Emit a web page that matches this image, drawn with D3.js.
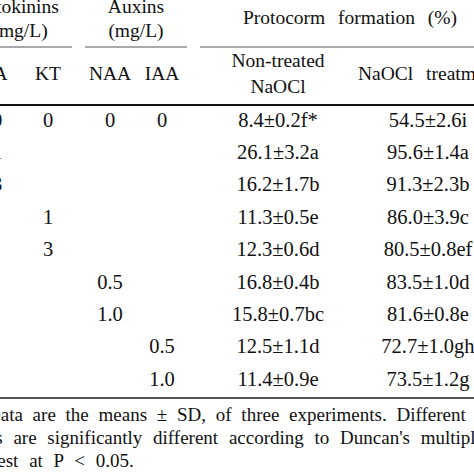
<!DOCTYPE html><html><head><meta charset="utf-8">
<script src="https://cdn.jsdelivr.net/npm/d3@7"></script>
<style>body{margin:0;background:#fff}svg{display:block}</style></head><body>
<script>
const BA=["0","1","3","","","","","",""];
const KT=["0","","","1","3","","","",""];
const NAA=["0","","","","","0.5","1.0","",""];
const IAA=["0","","","","","","","0.5","1.0"];
const nonTreated=["8.4±0.2f*","26.1±3.2a","16.2±1.7b","11.3±0.5e","12.3±0.6d","16.8±0.4b","15.8±0.7bc","12.5±1.1d","11.4±0.9e"];
const treated=["54.5±2.6i","95.6±1.4a","91.3±2.3b","86.0±3.9c","80.5±0.8ef","83.5±1.0d","81.6±0.8e","72.7±1.0gh","73.5±1.2g"];
const footnote=["Data are the means ± SD, of three experiments. Different letters","Means are significantly different according to Duncan's multiple range","test at P < 0.05."];

const W=474,H=474;
const svg=d3.select("body").append("svg").attr("width",W).attr("height",H)
 .style("font-family","'Liberation Serif','Times New Roman',serif").style("fill","#111");
const y=d3.scalePoint().domain(d3.range(BA.length)).range([122,381]);
const cols=[{d:BA,x:-3},{d:KT,x:48},{d:NAA,x:110},{d:IAA,x:162},{d:nonTreated,x:278},{d:treated,x:428}];
const t=(x,yy,s,a="middle",fs=19.5,ws=4)=>svg.append("text").attr("x",x).attr("y",yy).attr("text-anchor",a)
 .attr("font-size",fs).attr("dominant-baseline","middle").style("word-spacing",ws+"px").text(s);
// headers
t(16,9,"Cytokinins");t(20,33,"(mg/L)");
t(136,9,"Auxins");t(136,33,"(mg/L)");
t(350,20,"Protocorm formation (%)","middle",19.5,8);
[[-20,72],[85,187],[200,480]].forEach(([a,b])=>svg.append("line").attr("x1",a).attr("x2",b).attr("y1",47).attr("y2",47).attr("stroke","#555").attr("stroke-width",1.2));
t(-6,76,"BA");t(48,76,"KT");t(110,76,"NAA");t(162,76,"IAA");
t(278,63,"Non-treated");t(278,89,"NaOCl");t(358,76,"NaOCl treatment","start",19.5,8);
svg.append("line").attr("x1",0).attr("x2",W).attr("y1",105).attr("y2",105).attr("stroke","#111").attr("stroke-width",2.2);
cols.forEach(c=>c.d.forEach((v,i)=>{if(v)t(c.x,y(i),v,"middle",20.5);}));
svg.append("line").attr("x1",0).attr("x2",W).attr("y1",398).attr("y2",398).attr("stroke","#555").attr("stroke-width",2);
t(-13,417,footnote[0],"start",19,5);
t(-48,440,footnote[1],"start",19,6);
t(-8,463,footnote[2],"start",19,6);
</script></body></html>
